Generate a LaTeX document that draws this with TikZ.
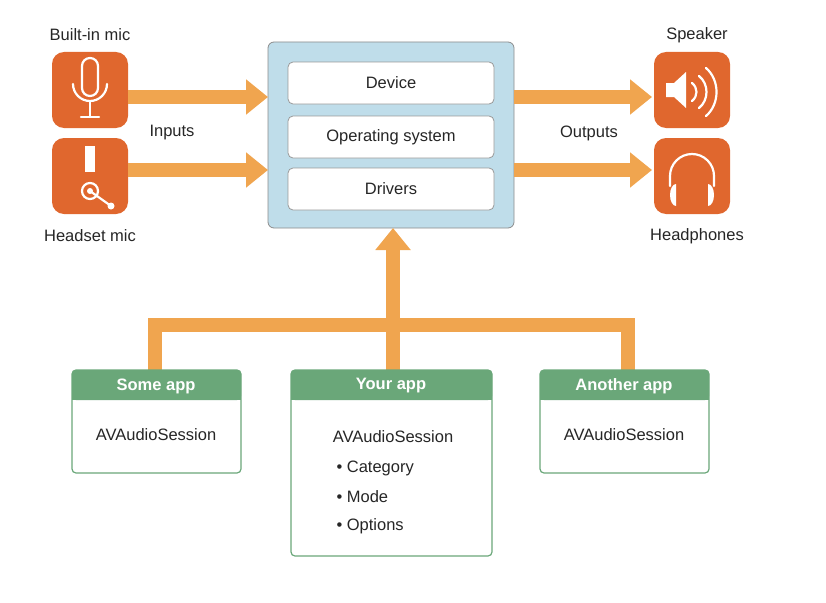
\documentclass[tikz,border=0pt]{standalone}
\usepackage{fontspec}
\setmainfont{Liberation Sans}
\usetikzlibrary{arrows.meta}
\definecolor{ico}{HTML}{E0672E}
\definecolor{arr}{HTML}{F0A54F}
\definecolor{grn}{HTML}{6AA779}
\definecolor{blu}{HTML}{BFDDEA}
\begin{document}
\begin{tikzpicture}[x=1pt,y=-1pt,
  txt/.style={font=\fontsize{16.5}{19}\selectfont, text=black!85},
  icon/.style={fill=ico, rounded corners=12pt},
  inner/.style={draw=black!40, fill=white, rounded corners=5pt, line width=0.8pt},
  big/.style={draw=arr, line width=14pt, -{Triangle[width=34pt,length=22pt]}},
  bar/.style={draw=arr, line width=14pt},
  appbox/.style={draw=grn, fill=white, line width=1.2pt, rounded corners=4pt},
  hdr/.style={fill=grn, rounded corners=4pt},
  wl/.style={draw=white, line width=2.2pt, line cap=round}]
\useasboundingbox (0,0) rectangle (826,602);
% center box
\draw[draw=black!45, fill=blu, rounded corners=6pt, line width=0.8pt] (268,42) rectangle (514,228);
\draw[inner] (288,62) rectangle (494,104); \node[txt] (dev) at (391,83) {Device};
\draw[inner] (288,116) rectangle (494,158); \node[txt] (os) at (391,137) {Operating system};
\draw[inner] (288,168) rectangle (494,210); \node[txt] (drv) at (391,189) {Drivers};
\coordinate (cin1) at (268,97); \coordinate (cin2) at (268,170);
\coordinate (cout1) at (514,97); \coordinate (cout2) at (514,170);
\coordinate (cbot) at (393,228);
% icons
\fill[icon] (52,52) rectangle (128,128); \coordinate (mic) at (128,97);
\fill[icon] (52,138) rectangle (128,214); \coordinate (hs) at (128,170);
\fill[icon] (654,52) rectangle (730,128); \coordinate (spk) at (652,97);
\fill[icon] (654,138) rectangle (730,214); \coordinate (hp) at (652,170);
% mic glyph
\draw[wl] (82,66) -- (82,88) arc (180:0:8) -- (98,66) arc (0:-180:8);
\draw[wl] (73,84) arc (180:0:17 and 17);
\draw[wl] (90,101) -- (90,117); \draw[wl] (81,117) -- (99,117);
% headset glyph
\fill[white] (85,146) rectangle (95,172);
\draw[wl] (90,191) circle (8); \fill[white] (90,191) circle (3);
\draw[wl] (90,191) -- (111,206); \fill[white] (111,206) circle (3.5);
% speaker glyph
\fill[white] (666,83) -- (674,83) -- (686,72) -- (686,108) -- (674,97) -- (666,97) -- cycle;
\draw[wl] (692,83) .. controls (698,88) and (698,96) .. (692,101);
\draw[wl] (699,76) .. controls (709,84) and (709,100) .. (699,108);
\draw[wl] (706,68) .. controls (720,80) and (720,104) .. (706,116);
% headphones glyph
\draw[wl] (670,186) -- (670,176) arc (180:360:22) -- (714,186);
\fill[white] (676,184) -- (676,206) arc (90:270:6 and 11) -- cycle;
\fill[white] (708,184) -- (708,206) arc (90:-90:6 and 11) -- cycle;
% labels
\node[txt] (l1) at (90,35) {Built-in mic};
\node[txt] (l2) at (90,236) {Headset mic};
\node[txt] (l3) at (172,133) {Inputs};
\node[txt] (l4) at (697,35) {Speaker};
\node[txt] (l5) at (697,236) {Headphones};
\node[txt] (l6) at (589,133) {Outputs};
% arrows
\draw[big] (mic) -- (cin1);
\draw[big] (hs) -- (cin2);
\draw[big] (cout1) -- (spk);
\draw[big] (cout2) -- (hp);
\coordinate (j) at (393,325);
\coordinate (a1) at (155,371); \coordinate (a2) at (393,371); \coordinate (a3) at (628,371);
\draw[bar] (a1) -- (155,325) -- (628,325) -- (a3);
\draw[bar] (a2) -- (j);
\draw[big] (j) -- (cbot);
% apps
\draw[appbox] (72,370) rectangle (241,473);
\fill[hdr] (72,370) rectangle (241,400); \fill[grn] (72,390) rectangle (241,400);
\node[txt,text=white,font=\fontsize{16.5}{19}\selectfont\bfseries] (s) at (156,386) {Some app};
\node[txt] (s2) at (156,435) {AVAudioSession};
\draw[appbox] (291,370) rectangle (492,556);
\fill[hdr] (291,370) rectangle (492,400); \fill[grn] (291,390) rectangle (492,400);
\node[txt,text=white,font=\fontsize{16.5}{19}\selectfont\bfseries] (y) at (391,386) {Your app};
\node[txt] (y2) at (393,437) {AVAudioSession};
\node[txt,anchor=west] (b1) at (333,468) {\textbullet\ Category};
\node[txt,anchor=west] (b2) at (333,497) {\textbullet\ Mode};
\node[txt,anchor=west] (b3) at (333,526) {\textbullet\ Options};
\draw[appbox] (540,370) rectangle (709,473);
\fill[hdr] (540,370) rectangle (709,400); \fill[grn] (540,390) rectangle (709,400);
\node[txt,text=white,font=\fontsize{16.5}{19}\selectfont\bfseries] (an) at (624,386) {Another app};
\node[txt] (an2) at (624,435) {AVAudioSession};
\end{tikzpicture}
\end{document}
